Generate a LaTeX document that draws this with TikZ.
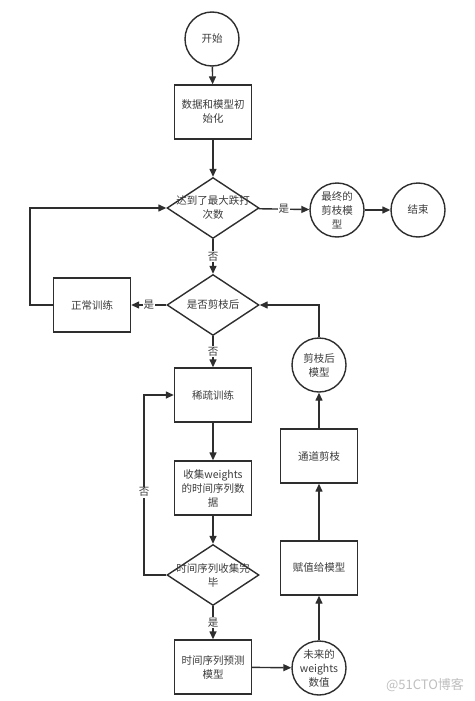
\documentclass[tikz,border=0pt]{standalone}
\usepackage{fontspec}
\setmainfont{Noto Sans CJK SC}
\usetikzlibrary{shapes.geometric,arrows.meta}
\definecolor{lc}{HTML}{2E2E2E}
\definecolor{tc}{HTML}{3C3C3C}
\tikzset{
  base/.style={draw=lc, line width=1.4pt, text=tc, align=center, inner sep=0pt,
    font=\fontsize{10.5}{14}\selectfont},
  circ/.style={base, circle, minimum size=54pt},
  boxn/.style={base, rectangle, minimum width=77pt, minimum height=54pt},
  dia/.style={base, diamond, minimum width=92pt, minimum height=61pt},
  txt/.style={text=tc, align=center, inner sep=0pt, font=\fontsize{10.5}{14}\selectfont},
  conn/.style={draw=lc, line width=1.4pt, -{Triangle[length=8pt,width=7pt]}},
  plain/.style={draw=lc, line width=1.4pt},
  lab/.style={fill=white, text=tc, inner sep=1pt, font=\fontsize{10.5}{12}\selectfont},
}
\begin{document}
\begin{tikzpicture}[x=1pt,y=-1pt]
\fill[white] (0,0) rectangle (474,701);
\useasboundingbox (0,0) rectangle (474,701);

\node[circ] (start) at (212,39) {开始};
\node[boxn] (init) at (213,112) {数据和模型初\\始化};
\node[dia] (d1) at (213,208) {};
\node[txt] (d1t) at (213,208) {达到了最大跌打\\次数};
\node[circ] (final) at (337,210) {最终的\\剪枝模\\型};
\node[circ] (end) at (418,210) {结束};

\node[dia] (d2) at (213,305) {};
\node[txt] (d2t) at (213,305) {是否剪枝后};
\node[boxn] (normal) at (92,305) {正常训练};

\node[boxn] (sparse) at (213,395) {稀疏训练};
\node[boxn] (collect) at (213,488) {收集weights\\的时间序列数\\据};
\node[dia] (d3) at (213,575) {};
\node[txt] (d3t) at (213,575) {时间序列收集完\\毕};
\node[boxn] (predict) at (213,667) {时间序列预测\\模型};

\node[circ] (future) at (319,668) {未来的\\weights\\数值};
\node[boxn] (assign) at (319,568) {赋值给模型};
\node[boxn] (channel) at (319,456) {通道剪枝};
\node[circ] (pruned) at (319,365) {剪枝后\\模型};

\coordinate (lx1) at (30,305);
\coordinate (lx2) at (144,575);

\draw[conn] (start) -- (init);
\draw[conn] (init) -- (d1);
\draw[conn] (d1) -- node[lab] {是} (final);
\draw[conn] (final) -- (end);
\draw[conn] (d1) -- node[lab] {否} (d2);
\draw[conn] (d2) -- node[lab] {是} (normal);
\draw[conn] (normal.west) -- (lx1) |- (d1.west);
\draw[conn] (d2) -- node[lab] {否} (sparse);
\draw[conn] (sparse) -- (collect);
\draw[conn] (collect) -- (d3);
\draw[conn] (d3) -- node[lab] {是} (predict);
\draw[conn] (d3.west) -- (lx2) |- node[lab, pos=0.23] {否} (sparse.west);
\draw[conn] (predict) -- (future);
\draw[conn] (future) -- (assign);
\draw[conn] (assign) -- (channel);
\draw[conn] (channel) -- (pruned);
\draw[conn] (pruned.north) |- (d2.east);

\node[text=black!25, font=\fontsize{13}{15}\selectfont] (wm) at (425,685) {@51CTO博客};
\end{tikzpicture}
\end{document}
